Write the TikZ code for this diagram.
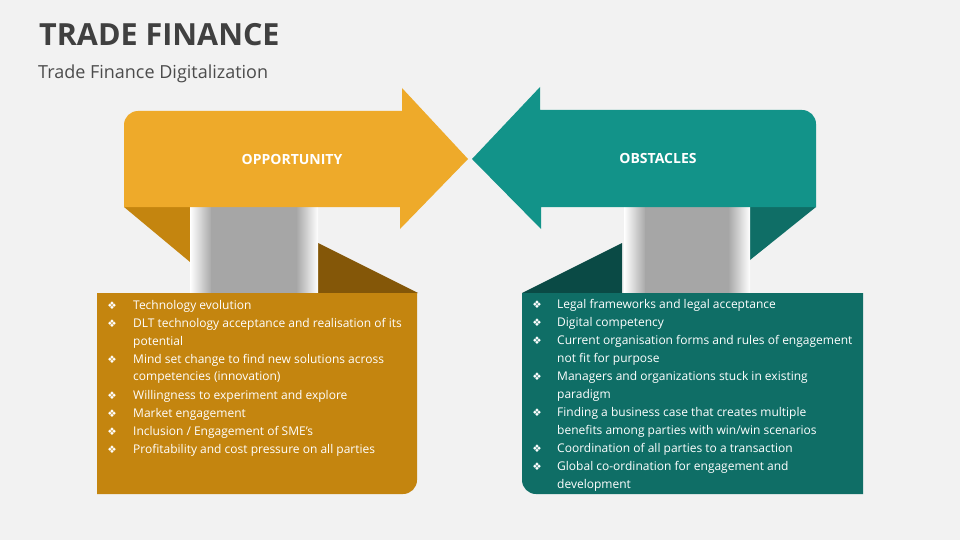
\documentclass[tikz,border=0pt]{standalone}
\usepackage{fontspec}
\setmainfont{Open Sans}
\newfontfamily\symf{DejaVu Sans}
\begin{document}
\begin{tikzpicture}[x=1pt,y=-1pt]
\definecolor{bg}{HTML}{F2F2F2}
\definecolor{gold}{HTML}{EEAA2A}
\definecolor{goldd}{HTML}{C4850F}
\definecolor{brown}{HTML}{845708}
\definecolor{teal}{HTML}{129389}
\definecolor{teald}{HTML}{0F6E66}
\definecolor{tealdd}{HTML}{0A4A45}
\definecolor{colg}{HTML}{A6A6A6}
\tikzset{head/.style={font=\bfseries\fontsize{14}{16}\selectfont,text=white},
 item/.style={anchor=west,font=\fontsize{12}{14}\selectfont,text=white,inner sep=0pt},
 bul/.style={font=\symf\fontsize{10.5}{12}\selectfont,text=white}}
\fill[bg] (0,0) rectangle (960,540);
\useasboundingbox (0,0) rectangle (960,540);
\node[anchor=west,font=\bfseries\fontsize{30.5}{34}\selectfont,text=black!75,inner sep=0pt] (title) at (39,35) {TRADE FINANCE};
\node[anchor=west,font=\fontsize{18}{20}\selectfont,text=black!70,inner sep=0pt] (sub) at (38,74) {Trade Finance Digitalization};
% left
\fill[goldd] (124,207) -- (190,207) -- (190,262) -- cycle;
\fill[brown] (318,243) -- (418,293) -- (318,293) -- cycle;
\shade[left color=white,right color=colg] (190,207) rectangle (212,293);
\shade[left color=colg,right color=white] (296,207) rectangle (318,293);
\fill[colg] (211,207) rectangle (297,293);
\fill[gold] (124,207) [rounded corners=14]-- (124,111) [sharp corners]-- (402,111) -- (402,88) -- (468,159) -- (400,229) -- (400,207) -- cycle;
\node[head] (opp) at (292,159) {OPPORTUNITY};
\fill[goldd] (97,293) -- (417,293) [rounded corners=14]-- (417,494) [sharp corners]-- (97,494) -- cycle;
% right
\fill[teald] (816,207) -- (750,207) -- (750,260) -- cycle;
\fill[tealdd] (622,243) -- (522,293) -- (622,293) -- cycle;
\shade[left color=white,right color=colg] (624,207) rectangle (646,293);
\shade[left color=colg,right color=white] (728,207) rectangle (750,293);
\fill[colg] (645,207) rectangle (729,293);
\fill[teal] (541,207) -- (541,229) -- (472,159) -- (540,87) -- (540,110) [rounded corners=14]-- (816,110) [sharp corners]-- (816,207) -- cycle;
\node[head] (obs) at (658,158) {OBSTACLES};
\fill[teald] (863,293) -- (522,293) [rounded corners=14]-- (522,494) [sharp corners]-- (863,494) -- cycle;
% left items
\foreach \y/\t in {306/{Technology evolution},324/{DLT technology acceptance and realisation of its},342/{potential},360/{Mind set change to find new solutions across},378/{competencies (innovation)},396/{Willingness to experiment and explore},414/{Market engagement},432/{Inclusion / Engagement of SME’s},450/{Profitability and cost pressure on all parties}}
 \node[item] at (133,\y) {\t};
\foreach \y in {306,324,360,396,414,432,450} \node[bul] at (112,\y) {❖};
\foreach \y/\t in {305/{Legal frameworks and legal acceptance},323/{Digital competency},341/{Current organisation forms and rules of engagement},359/{not fit for purpose},377/{Managers and organizations stuck in existing},395/{paradigm},413/{Finding a business case that creates multiple},431/{benefits among parties with win/win scenarios},449/{Coordination of all parties to a transaction},467/{Global co-ordination for engagement and},485/{development}}
 \node[item] at (557,\y) {\t};
\foreach \y in {305,323,341,377,413,449,467} \node[bul] at (537,\y) {❖};
\end{tikzpicture}
\end{document}
